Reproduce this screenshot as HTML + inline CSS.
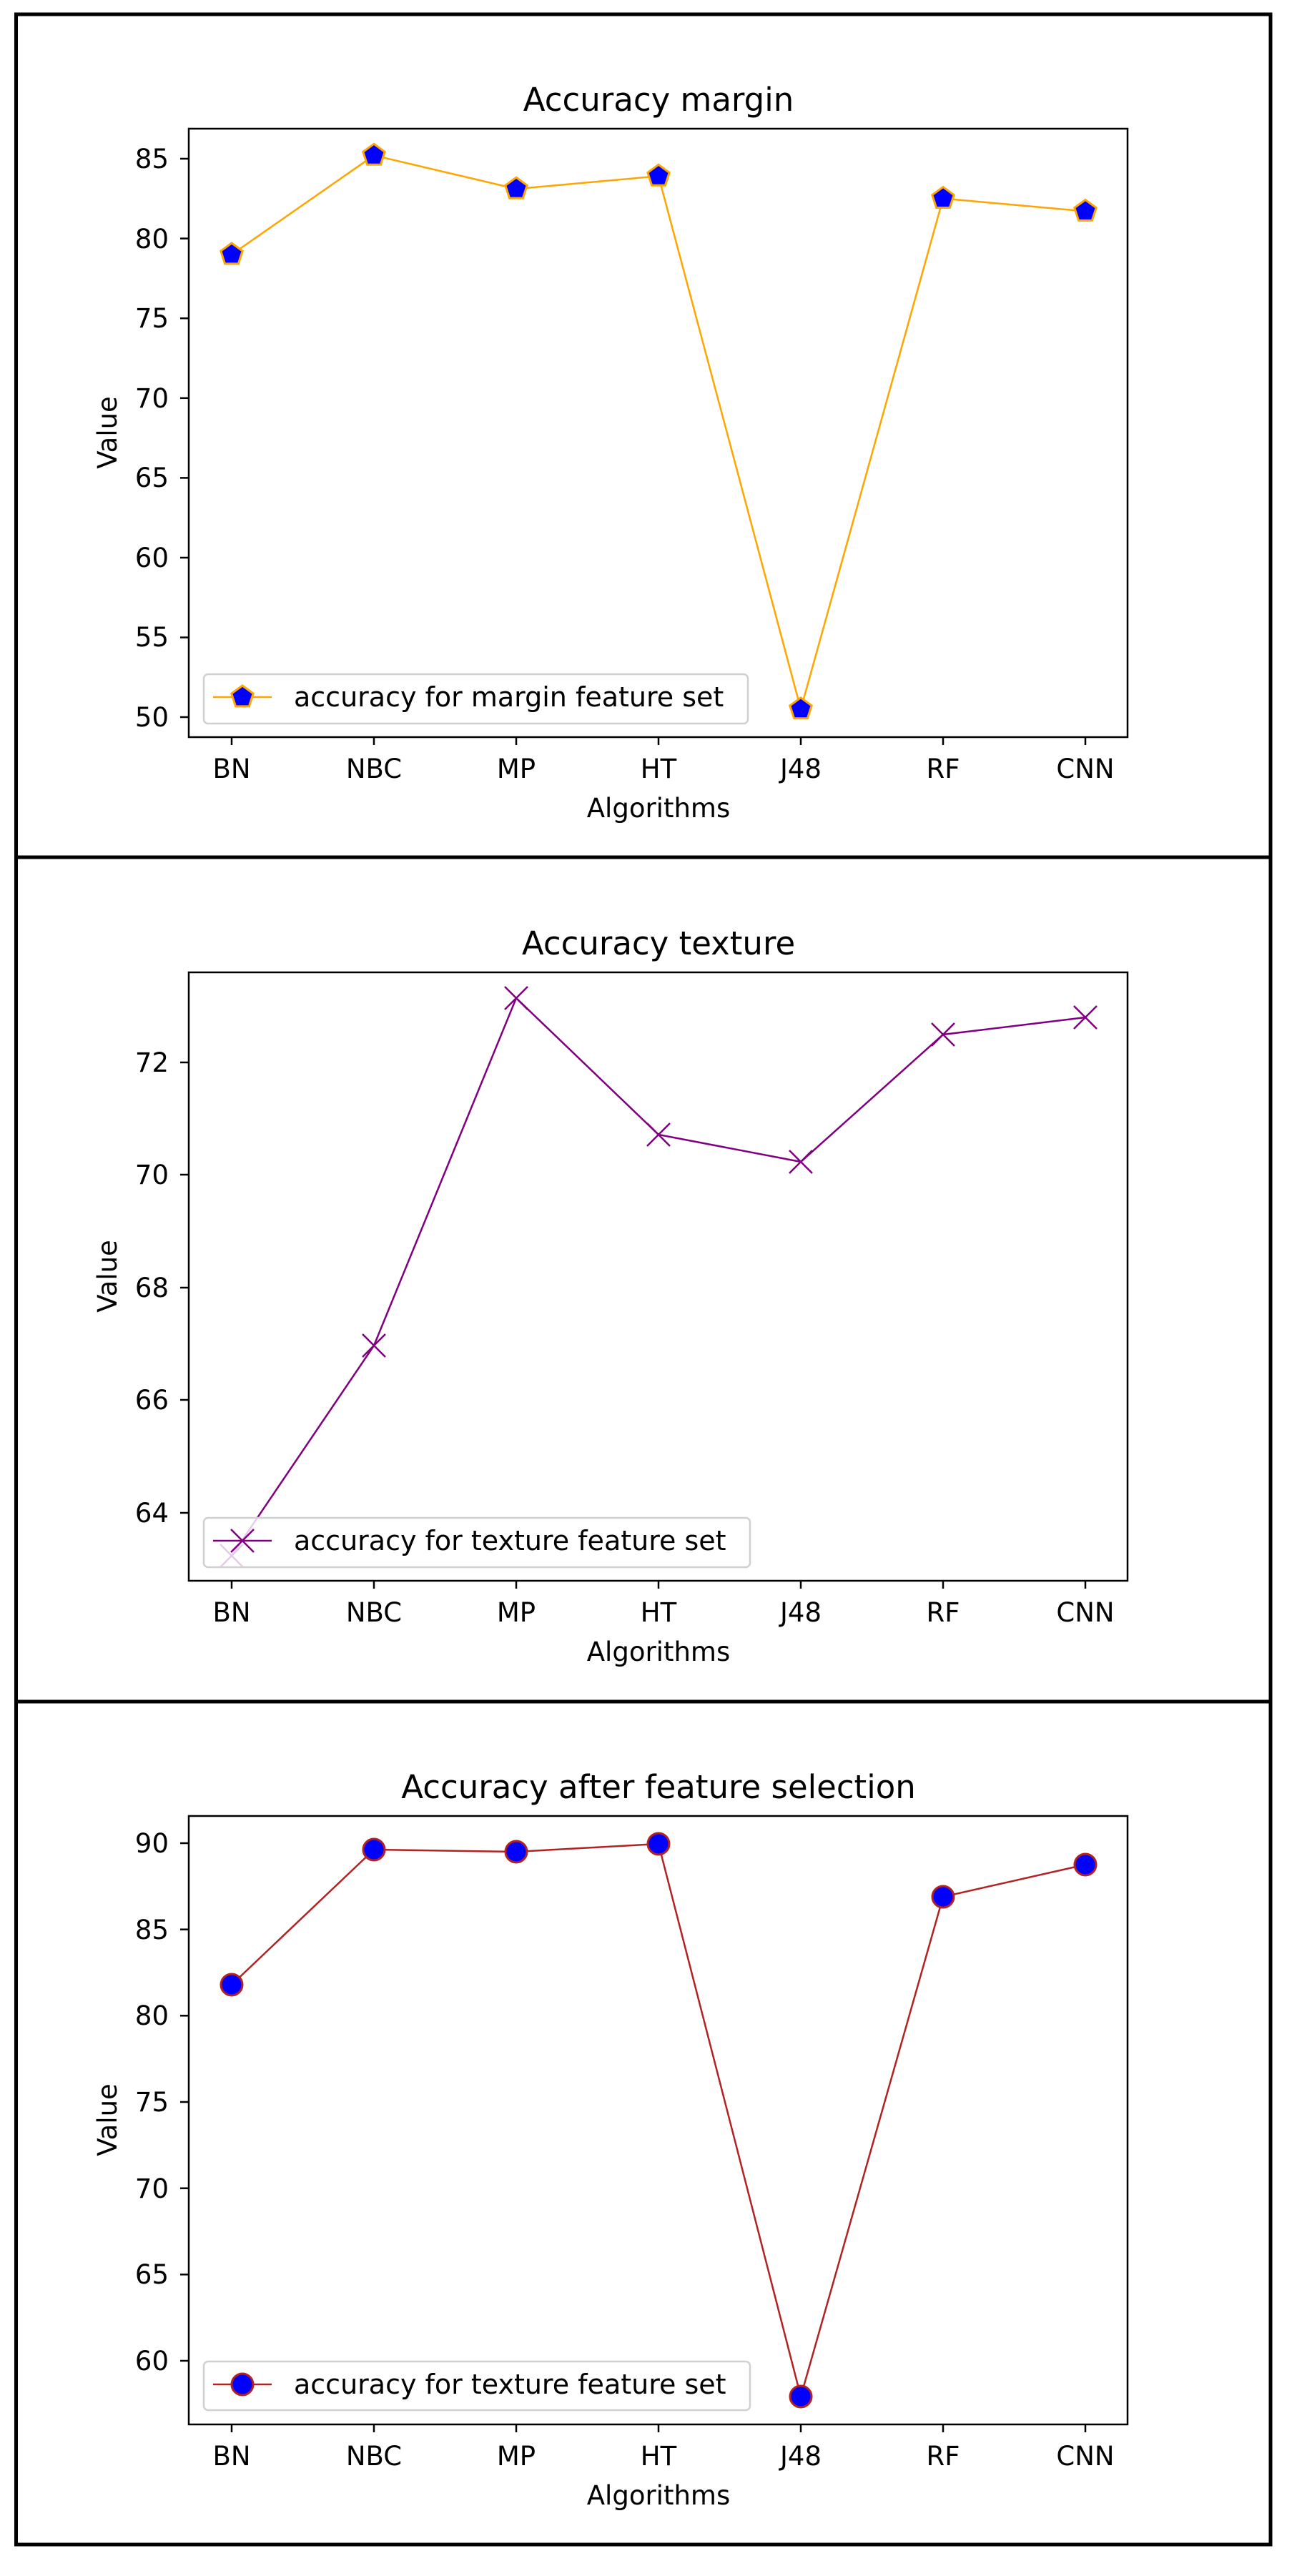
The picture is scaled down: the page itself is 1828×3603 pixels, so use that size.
<!DOCTYPE html>
<html><head><meta charset="utf-8"><style>
body{margin:0;background:#fff}
svg{display:block}
text{font-family:"DejaVu Sans","Liberation Sans",sans-serif;fill:#000}
</style></head><body>
<svg width="1828" height="3603" viewBox="0 0 1828 3603" xmlns="http://www.w3.org/2000/svg">
<defs>
<polygon id="pent" points="0,-16 15.2,-4.9 9.4,12.9 -9.4,12.9 -15.2,-4.9" fill="#0000ff" stroke="orange" stroke-width="3"/>
<path id="xm" d="M-16,-16L16,16M-16,16L16,-16" stroke="purple" stroke-width="2.5" fill="none"/>
<circle id="circ" r="15" fill="#0000ff" stroke="#b22222" stroke-width="3"/>
<g id="frame">
<rect x="264" y="180" width="1313" height="851" fill="none" stroke="#000" stroke-width="2.5"/>
<g stroke="#000" stroke-width="2.5">
<line x1="324" y1="1031" x2="324" y2="1042"/><line x1="523" y1="1031" x2="523" y2="1042"/><line x1="722" y1="1031" x2="722" y2="1042"/><line x1="921" y1="1031" x2="921" y2="1042"/><line x1="1120" y1="1031" x2="1120" y2="1042"/><line x1="1319" y1="1031" x2="1319" y2="1042"/><line x1="1518" y1="1031" x2="1518" y2="1042"/>
</g>
<g font-size="37" text-anchor="middle">
<text x="324" y="1088">BN</text><text x="523" y="1088">NBC</text><text x="722" y="1088">MP</text><text x="921" y="1088">HT</text><text x="1120" y="1088">J48</text><text x="1319" y="1088">RF</text><text x="1518" y="1088">CNN</text>
<text x="921" y="1143">Algorithms</text>
</g>
<text transform="translate(163,605) rotate(-90)" font-size="37" text-anchor="middle">Value</text>
</g>
</defs>
<rect x="0" y="0" width="1828" height="3603" fill="#fff"/>
<rect x="22.5" y="20" width="1754.5" height="3539" fill="none" stroke="#000" stroke-width="5"/>
<line x1="22" y1="1199" x2="1777" y2="1199" stroke="#000" stroke-width="5"/>
<line x1="22" y1="2380" x2="1777" y2="2380" stroke="#000" stroke-width="5"/>

<!-- Panel 1 -->
<use href="#frame" x="0" y="0"/>
<text x="921" y="155" font-size="45" text-anchor="middle">Accuracy margin</text>
<g font-size="37" text-anchor="end">
<text x="236" y="235">85</text><text x="236" y="347">80</text><text x="236" y="458">75</text><text x="236" y="570">70</text><text x="236" y="681">65</text><text x="236" y="793">60</text><text x="236" y="904">55</text><text x="236" y="1016">50</text>
</g>
<g stroke="#000" stroke-width="2.5">
<line x1="252" y1="222" x2="264" y2="222"/><line x1="252" y1="333.6" x2="264" y2="333.6"/><line x1="252" y1="445.2" x2="264" y2="445.2"/><line x1="252" y1="556.8" x2="264" y2="556.8"/><line x1="252" y1="668.4" x2="264" y2="668.4"/><line x1="252" y1="780" x2="264" y2="780"/><line x1="252" y1="891.6" x2="264" y2="891.6"/><line x1="252" y1="1003" x2="264" y2="1003"/>
</g>
<polyline points="324,356 523,217.3 722,264.2 921,246.3 1120,991.8 1319,277.6 1518,295.5" fill="none" stroke="orange" stroke-width="2.5"/>
<use href="#pent" x="324" y="356"/><use href="#pent" x="523" y="217.3"/><use href="#pent" x="722" y="264.2"/><use href="#pent" x="921" y="246.3"/><use href="#pent" x="1120" y="991.8"/><use href="#pent" x="1319" y="277.6"/><use href="#pent" x="1518" y="295.5"/>
<rect x="285" y="943" width="761" height="69" rx="6" fill="#fff" fill-opacity="0.8" stroke="#d0d0d0" stroke-width="2.5"/>
<line x1="298" y1="975" x2="380" y2="975" stroke="orange" stroke-width="2.5"/>
<use href="#pent" x="339" y="975"/>
<text x="411" y="988" font-size="38">accuracy for margin feature set</text>

<!-- Panel 2 -->
<use href="#frame" x="0" y="1180"/>
<text x="921" y="1335" font-size="45" text-anchor="middle">Accuracy texture</text>
<g font-size="37" text-anchor="end">
<text x="236" y="1499">72</text><text x="236" y="1656">70</text><text x="236" y="1814">68</text><text x="236" y="1971">66</text><text x="236" y="2129">64</text>
</g>
<g stroke="#000" stroke-width="2.5">
<line x1="252" y1="1486" x2="264" y2="1486"/><line x1="252" y1="1643" x2="264" y2="1643"/><line x1="252" y1="1801" x2="264" y2="1801"/><line x1="252" y1="1958" x2="264" y2="1958"/><line x1="252" y1="2116" x2="264" y2="2116"/>
</g>
<polyline points="324,2176 523,1882 722,1396 921,1587 1120,1625 1319,1447 1518,1423" fill="none" stroke="purple" stroke-width="2.5"/>
<use href="#xm" x="324" y="2176"/><use href="#xm" x="523" y="1882"/><use href="#xm" x="722" y="1396"/><use href="#xm" x="921" y="1587"/><use href="#xm" x="1120" y="1625"/><use href="#xm" x="1319" y="1447"/><use href="#xm" x="1518" y="1423"/>
<rect x="285" y="2123" width="764" height="69" rx="6" fill="#fff" fill-opacity="0.8" stroke="#d0d0d0" stroke-width="2.5"/>
<line x1="298" y1="2155" x2="380" y2="2155" stroke="purple" stroke-width="2.5"/>
<use href="#xm" x="339" y="2155"/>
<text x="411" y="2168" font-size="38">accuracy for texture feature set</text>

<!-- Panel 3 -->
<use href="#frame" x="0" y="2360"/>
<text x="921" y="2515" font-size="45" text-anchor="middle">Accuracy after feature selection</text>
<g font-size="37" text-anchor="end">
<text x="236" y="2591">90</text><text x="236" y="2712">85</text><text x="236" y="2832">80</text><text x="236" y="2953">75</text><text x="236" y="3074">70</text><text x="236" y="3194">65</text><text x="236" y="3315">60</text>
</g>
<g stroke="#000" stroke-width="2.5">
<line x1="252" y1="2578" x2="264" y2="2578"/><line x1="252" y1="2698.7" x2="264" y2="2698.7"/><line x1="252" y1="2819.3" x2="264" y2="2819.3"/><line x1="252" y1="2940" x2="264" y2="2940"/><line x1="252" y1="3060.7" x2="264" y2="3060.7"/><line x1="252" y1="3181.3" x2="264" y2="3181.3"/><line x1="252" y1="3302" x2="264" y2="3302"/>
</g>
<polyline points="324,2776 523,2587 722,2590 921,2579 1120,3352 1319,2653 1518,2608" fill="none" stroke="#b22222" stroke-width="2.5"/>
<use href="#circ" x="324" y="2776"/><use href="#circ" x="523" y="2587"/><use href="#circ" x="722" y="2590"/><use href="#circ" x="921" y="2579"/><use href="#circ" x="1120" y="3352"/><use href="#circ" x="1319" y="2653"/><use href="#circ" x="1518" y="2608"/>
<rect x="285" y="3303" width="764" height="68" rx="6" fill="#fff" fill-opacity="0.8" stroke="#d0d0d0" stroke-width="2.5"/>
<line x1="298" y1="3335" x2="380" y2="3335" stroke="#b22222" stroke-width="2.5"/>
<use href="#circ" x="339" y="3335"/>
<text x="411" y="3348" font-size="38">accuracy for texture feature set</text>
</svg>
</body></html>
